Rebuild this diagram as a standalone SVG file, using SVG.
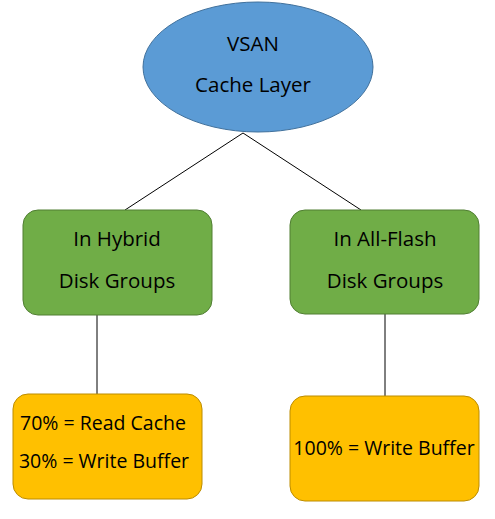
<svg xmlns="http://www.w3.org/2000/svg" width="495" height="519" viewBox="0 0 495 519">
<style>
text{font-family:"Open Sans","Liberation Sans",sans-serif;font-size:20.5px;fill:#000;text-anchor:middle}
text.pct{font-size:19.5px}
.conn line{stroke:#000;stroke-width:1}
.blue{fill:#5B9BD5;stroke:#41719C;stroke-width:1}
.green{fill:#70AD47;stroke:#507E32;stroke-width:1}
.orange{fill:#FFC000;stroke:#BC8C00;stroke-width:1}
</style>
<rect width="495" height="519" fill="#fff"/>
<g class="conn">
<line x1="243" y1="133" x2="125" y2="210"/>
<line x1="243" y1="133" x2="361" y2="210"/>
<line x1="97" y1="315" x2="97" y2="394"/>
<line x1="385" y1="314" x2="385" y2="396"/>
</g>
<g id="vsan">
<ellipse class="blue" cx="258" cy="67" rx="115" ry="65"/>
<text x="253" y="51">VSAN</text>
<text x="253" y="92">Cache Layer</text>
</g>
<g id="hybrid">
<rect class="green" x="23" y="210" width="189" height="105" rx="15"/>
<text x="117" y="246">In Hybrid</text>
<text x="117" y="288">Disk Groups</text>
</g>
<g id="allflash">
<rect class="green" x="290" y="210" width="189" height="104" rx="15"/>
<text x="385" y="246">In All-Flash</text>
<text x="385" y="288">Disk Groups</text>
</g>
<g id="hybrid-split">
<rect class="orange" x="13" y="394" width="189" height="105" rx="15"/>
<text class="pct" x="103" y="430">70% = Read Cache</text>
<text class="pct" x="104" y="468">30% = Write Buffer</text>
</g>
<g id="allflash-split">
<rect class="orange" x="290" y="396" width="189" height="105" rx="15"/>
<text class="pct" x="384" y="455">100% = Write Buffer</text>
</g>
</svg>
